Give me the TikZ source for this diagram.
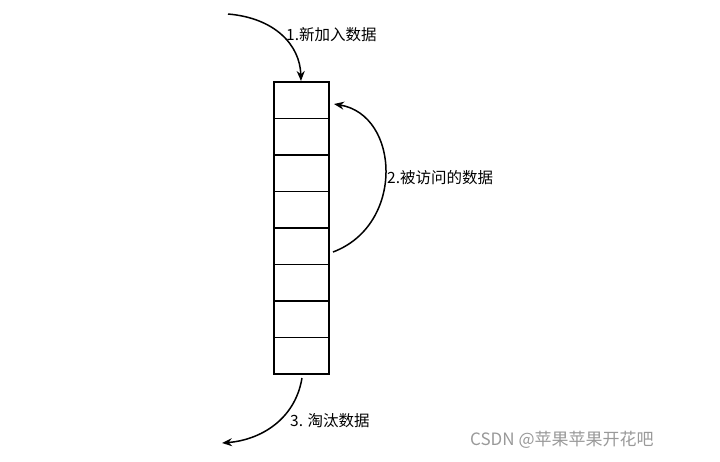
\documentclass[tikz,border=0pt]{standalone}
\usepackage{fontspec}
\setmainfont{Noto Sans CJK SC}
\usetikzlibrary{arrows.meta}
\begin{document}
\begin{tikzpicture}[x=1pt,y=-1pt,
  cell/.style={draw,line width=1.5pt,minimum width=55pt,minimum height=36.5pt,inner sep=0,anchor=north west},
  arr/.style={line width=1.5pt,-{Stealth[length=10pt,width=8pt]}},
  lbl/.style={font=\fontsize{15.5}{18}\selectfont,anchor=west,inner sep=0}]
\useasboundingbox (0,0) rectangle (720,461);
\foreach \i in {0,...,7}{\node[cell] (c\i) at (273,{81+36.5*\i}) {};}
\coordinate (s1) at (228,14);
\coordinate (s2) at (333,252);
\coordinate (e3) at (222,443);
\draw[arr] (s1) .. controls (275,18) and (300,45) .. (c0.north -| 301,0);
\draw[arr] (s2) .. controls (405,225) and (400,115) .. (334,104);
\draw[arr] (302,378) .. controls (295,420) and (260,440) .. (e3);
\node[lbl] (l1) at (286,35) {1.新加入数据};
\node[lbl] (l2) at (387,178) {2.被访问的数据};
\node[lbl] (l3) at (290,421) {3. 淘汰数据};
\node[lbl,text=gray!80,font=\fontsize{17}{19}\selectfont] (w) at (470,440) {CSDN @苹果苹果开花吧};
\end{tikzpicture}
\end{document}
